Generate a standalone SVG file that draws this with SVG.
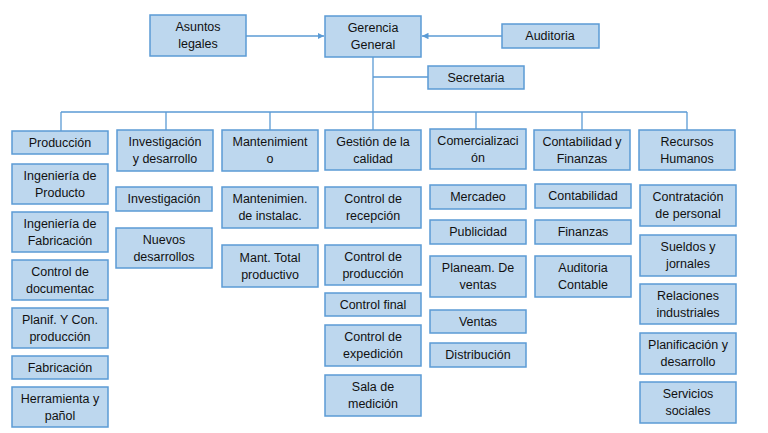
<svg xmlns="http://www.w3.org/2000/svg" width="768" height="433" viewBox="0 0 768 433">
<style>
rect{fill:#bdd7ee;stroke:#5b9bd5;stroke-width:1.5}
text{font-family:"Liberation Sans",Arial,sans-serif;font-size:12.5px;fill:#111;text-anchor:middle}
.c{stroke:#5b9bd5;stroke-width:1.3;fill:none}
</style>
<defs><marker id="a" viewBox="0 0 6 6" refX="6" refY="3" markerWidth="5" markerHeight="5" orient="auto"><path d="M0,0L6,3L0,6z" fill="#5b9bd5"/></marker></defs>
<rect width="768" height="433" style="fill:#fff;stroke:none"/>
<g id="connectors">
<path class="c" d="M246,36H324" marker-end="url(#a)"/>
<path class="c" d="M502,36H422" marker-end="url(#a)"/>
<path class="c" d="M373,57V130M373,77H428M61,112H687M61,112V131M166,112V130M270,112V130M476,112V129M582,112V130M687,112V130"/>
</g>
<g id="n0"><rect x="150" y="15" width="96" height="41"/><text x="198" y="31">Asuntos</text><text x="198" y="48">legales</text></g>
<g id="n1"><rect x="325" y="16" width="96" height="41"/><text x="373" y="32">Gerencia</text><text x="373" y="49">General</text></g>
<g id="n2"><rect x="502" y="24" width="97" height="24"/><text x="550" y="40">Auditoria</text></g>
<g id="n3"><rect x="428" y="66" width="96" height="23"/><text x="476" y="82">Secretaria</text></g>
<g id="p"><rect x="12" y="131" width="96" height="23"/><text x="60" y="147">Producción</text></g>
<g id="p1"><rect x="12" y="164" width="96" height="40"/><text x="60" y="180">Ingeniería de</text><text x="60" y="197">Producto</text></g>
<g id="p2"><rect x="12" y="212" width="96" height="40"/><text x="60" y="228">Ingeniería de</text><text x="60" y="245">Fabricación</text></g>
<g id="p3"><rect x="12" y="260" width="96" height="40"/><text x="60" y="276">Control de</text><text x="60" y="293">documentac</text></g>
<g id="p4"><rect x="12" y="308" width="96" height="40"/><text x="60" y="324">Planif. Y Con.</text><text x="60" y="341">producción</text></g>
<g id="p5"><rect x="12" y="356" width="96" height="23"/><text x="60" y="372">Fabricación</text></g>
<g id="p6"><rect x="12" y="387" width="96" height="40"/><text x="60" y="403">Herramienta y</text><text x="60" y="420">pañol</text></g>
<g id="i"><rect x="117" y="130" width="96" height="41"/><text x="165" y="146">Investigación</text><text x="165" y="163">y desarrollo</text></g>
<g id="i1"><rect x="116" y="187" width="96" height="24"/><text x="164" y="203">Investigación</text></g>
<g id="i2"><rect x="116" y="228" width="96" height="40"/><text x="164" y="244">Nuevos</text><text x="164" y="261">desarrollos</text></g>
<g id="m"><rect x="222" y="130" width="96" height="41"/><text x="270" y="146">Mantenimient</text><text x="270" y="163">o</text></g>
<g id="m1"><rect x="222" y="187" width="96" height="41"/><text x="270" y="203">Mantenimien.</text><text x="270" y="220">de instalac.</text></g>
<g id="m2"><rect x="222" y="245" width="96" height="42"/><text x="270" y="262">Mant. Total</text><text x="270" y="279">productivo</text></g>
<g id="g"><rect x="325" y="130" width="96" height="40"/><text x="373" y="146">Gestión de la</text><text x="373" y="163">calidad</text></g>
<g id="g1"><rect x="325" y="187" width="96" height="41"/><text x="373" y="203">Control de</text><text x="373" y="220">recepción</text></g>
<g id="g2"><rect x="325" y="245" width="96" height="40"/><text x="373" y="261">Control de</text><text x="373" y="278">producción</text></g>
<g id="g3"><rect x="325" y="293" width="96" height="23"/><text x="373" y="309">Control final</text></g>
<g id="g4"><rect x="325" y="325" width="96" height="41"/><text x="373" y="341">Control de</text><text x="373" y="358">expedición</text></g>
<g id="g5"><rect x="325" y="375" width="96" height="41"/><text x="373" y="391">Sala de</text><text x="373" y="408">medición</text></g>
<g id="c"><rect x="430" y="129" width="96" height="40"/><text x="478" y="145">Comercializaci</text><text x="478" y="162">ón</text></g>
<g id="c1"><rect x="430" y="185" width="96" height="24"/><text x="478" y="201">Mercadeo</text></g>
<g id="c2"><rect x="430" y="220" width="96" height="24"/><text x="478" y="236">Publicidad</text></g>
<g id="c3"><rect x="430" y="256" width="96" height="41"/><text x="478" y="272">Planeam. De</text><text x="478" y="289">ventas</text></g>
<g id="c4"><rect x="430" y="310" width="96" height="23"/><text x="478" y="326">Ventas</text></g>
<g id="c5"><rect x="430" y="343" width="96" height="24"/><text x="478" y="359">Distribución</text></g>
<g id="f"><rect x="534" y="130" width="96" height="40"/><text x="582" y="146">Contabilidad y</text><text x="582" y="163">Finanzas</text></g>
<g id="f1"><rect x="535" y="184" width="96" height="24"/><text x="583" y="200">Contabilidad</text></g>
<g id="f2"><rect x="535" y="220" width="96" height="24"/><text x="583" y="236">Finanzas</text></g>
<g id="f3"><rect x="535" y="256" width="96" height="41"/><text x="583" y="272">Auditoria</text><text x="583" y="289">Contable</text></g>
<g id="r"><rect x="639" y="130" width="96" height="40"/><text x="687" y="146">Recursos</text><text x="687" y="163">Humanos</text></g>
<g id="r1"><rect x="640" y="185" width="96" height="41"/><text x="688" y="201">Contratación</text><text x="688" y="218">de personal</text></g>
<g id="r2"><rect x="640" y="235" width="96" height="41"/><text x="688" y="251">Sueldos y</text><text x="688" y="268">jornales</text></g>
<g id="r3"><rect x="640" y="284" width="96" height="40"/><text x="688" y="300">Relaciones</text><text x="688" y="317">industriales</text></g>
<g id="r4"><rect x="640" y="333" width="96" height="41"/><text x="688" y="349">Planificación y</text><text x="688" y="366">desarrollo</text></g>
<g id="r5"><rect x="640" y="382" width="96" height="41"/><text x="688" y="398">Servicios</text><text x="688" y="415">sociales</text></g>
</svg>
